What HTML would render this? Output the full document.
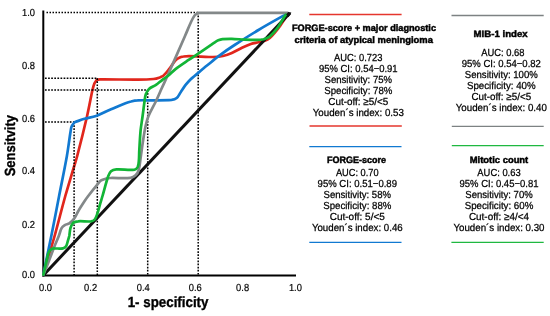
<!DOCTYPE html>
<html><head><meta charset="utf-8"><title>ROC curves</title>
<style>
html,body{margin:0;padding:0;background:#fff;}
svg{display:block;font-family:"Liberation Sans",sans-serif;}
text{fill:#000;stroke:#000;stroke-width:0.25px;text-rendering:geometricPrecision;}
text.t{stroke-width:0.2px;}
text.h{stroke-width:0.45px;}
text.a{stroke-width:0.35px;}
</style></head><body>
<svg width="550" height="316" viewBox="0 0 550 316">
<rect width="550" height="316" fill="#fff"/>
<line x1="43.3" y1="10.5" x2="43.3" y2="276.6" stroke="#000" stroke-width="2"/>
<line x1="42.3" y1="275.6" x2="296" y2="275.6" stroke="#000" stroke-width="2"/>
<path d="M43.4 274.6 C44.9 269.3 46.3 264.1 47.8 258.8 C50.0 251.2 52.5 243.6 54.6 236.0 C58.3 222.7 61.6 209.3 65.3 196.0 C67.9 186.9 70.7 177.8 73.4 168.7 C74.7 164.5 76.1 160.3 77.2 156.0 C80.7 142.7 84.0 129.4 87.1 116.0 C89.0 107.8 90.4 99.5 92.2 91.3 C92.8 88.7 93.3 86.1 94.3 83.7 C94.9 82.3 96.0 81.1 96.8 79.8 C97.9 79.7 98.9 79.4 100.0 79.4 C112.7 79.3 125.5 79.7 138.2 79.6 C143.3 79.6 148.4 79.5 153.5 79.0 C155.7 78.8 157.8 78.1 159.8 77.4 C161.1 76.9 162.5 76.4 163.6 75.5 C165.7 73.6 167.4 71.3 169.1 69.1 C171.3 66.3 173.1 63.1 175.5 60.4 C176.5 59.3 177.8 58.4 179.2 57.7 C180.5 57.0 182.0 56.7 183.5 56.5 C185.3 56.2 187.2 56.2 189.0 56.2 C193.0 56.2 196.9 56.5 200.9 56.6 C204.8 56.7 208.8 57.1 212.7 57.0 C216.1 56.9 219.6 56.7 222.9 56.0 C226.0 55.3 228.9 54.1 231.8 52.9 C235.3 51.4 238.6 49.4 242.0 47.8 C244.9 46.4 247.8 45.0 250.9 44.0 C253.4 43.2 256.0 42.9 258.5 42.3 C260.6 41.8 262.8 41.6 264.8 40.8 C266.6 40.1 268.3 39.2 269.8 38.0 C271.6 36.6 273.1 34.8 274.6 33.0 C276.6 30.6 278.6 28.1 280.4 25.5 C282.1 23.1 283.6 20.5 285.3 18.0 C286.3 16.5 287.3 15.1 288.3 13.6" fill="none" stroke="#e1261c" stroke-width="2.70" stroke-linejoin="round" stroke-linecap="round"/>
<line x1="46.5" y1="12.5" x2="198.2" y2="12.5" stroke="#000" stroke-width="1.30" stroke-dasharray="1.5 1.5"/>
<line x1="198.2" y1="12.5" x2="198.2" y2="275.6" stroke="#000" stroke-width="1.50" stroke-dasharray="1.7 1.4"/>
<line x1="45.0" y1="78.2" x2="97.3" y2="78.2" stroke="#000" stroke-width="1.50" stroke-dasharray="1.7 1.4"/>
<line x1="97.3" y1="78.2" x2="97.3" y2="275.6" stroke="#000" stroke-width="1.50" stroke-dasharray="1.7 1.4"/>
<line x1="45.0" y1="90.0" x2="147.7" y2="90.0" stroke="#000" stroke-width="1.50" stroke-dasharray="1.7 1.4"/>
<line x1="147.7" y1="90.0" x2="147.7" y2="275.6" stroke="#000" stroke-width="1.50" stroke-dasharray="1.7 1.4"/>
<line x1="45.0" y1="122.1" x2="74.1" y2="122.1" stroke="#000" stroke-width="1.50" stroke-dasharray="1.7 1.4"/>
<line x1="74.1" y1="122.1" x2="74.1" y2="275.6" stroke="#000" stroke-width="1.50" stroke-dasharray="1.7 1.4"/>
<line x1="43.4" y1="275.2" x2="289.7" y2="13.1" stroke="#111" stroke-width="3.0" stroke-linecap="butt"/>
<path d="M43.4 274.6 C44.5 269.3 45.5 264.1 46.6 258.8 C48.2 251.2 49.8 243.6 51.3 236.0 C54.0 222.7 56.5 209.3 59.1 196.0 C61.7 182.7 64.5 169.4 66.9 156.0 C68.3 148.0 69.2 140.0 70.5 132.0 C70.8 130.2 70.9 128.2 71.6 126.5 C72.3 124.9 73.6 123.6 74.6 122.2 C77.9 121.1 81.1 119.8 84.5 118.8 C88.3 117.7 92.3 117.3 96.0 116.0 C100.8 114.3 105.3 111.7 110.0 109.7 C115.1 107.5 120.3 105.2 125.5 103.2 C127.3 102.5 129.1 101.9 131.0 101.5 C133.1 101.0 135.3 100.5 137.5 100.4 C141.7 100.1 145.8 100.4 150.0 100.3 C157.2 100.2 164.4 100.5 171.6 99.9 C173.4 99.7 175.3 99.2 176.7 98.0 C178.4 96.6 179.2 94.3 180.5 92.5 C182.2 90.0 183.7 87.3 185.6 84.9 C187.2 82.9 188.9 81.0 190.7 79.2 C191.9 78.0 193.2 77.1 194.5 76.0 C198.8 72.4 203.0 68.8 207.3 65.3 C211.5 61.9 215.6 58.3 220.0 55.1 C224.7 51.6 229.6 48.2 234.6 45.0 C242.5 39.9 250.4 34.8 258.5 30.0 C266.8 25.0 275.2 20.4 283.6 15.6 C284.6 15.1 285.5 14.5 286.5 14.0" fill="none" stroke="#1179d1" stroke-width="2.70" stroke-linejoin="round" stroke-linecap="round"/>
<path d="M43.4 274.6 C44.6 271.7 45.8 268.9 47.0 266.0 C48.1 263.2 49.1 260.4 50.2 257.6 C51.5 254.2 52.7 250.8 54.0 247.5 C55.5 243.6 57.3 239.9 58.8 236.0 C59.8 233.4 60.3 230.6 61.6 228.2 C62.3 226.9 63.6 226.0 64.8 225.2 C66.2 224.3 68.0 224.3 69.3 223.4 C71.3 222.0 73.0 220.2 74.4 218.3 C76.0 216.2 76.8 213.6 78.2 211.3 C80.1 208.0 82.2 204.8 84.3 201.6 C85.5 199.7 86.8 197.8 88.2 196.0 C91.2 192.1 94.2 188.3 97.3 184.6 C98.5 183.1 99.5 181.5 101.1 180.4 C102.6 179.4 104.5 179.1 106.2 178.6 C107.5 178.3 108.9 178.0 110.3 178.0 C117.0 177.8 123.8 178.6 130.5 177.9 C132.4 177.7 134.2 176.6 135.6 175.3 C137.0 174.0 138.1 172.2 138.6 170.3 C139.8 166.3 140.0 162.2 140.6 158.1 C141.0 155.4 141.3 152.7 141.7 150.0 C142.3 145.5 143.0 141.0 143.7 136.5 C144.3 133.0 144.8 129.5 145.6 126.0 C146.4 122.7 147.1 119.3 148.4 116.2 C150.5 111.1 153.4 106.5 155.8 101.5 C157.8 97.3 159.6 93.0 161.5 88.7 C163.4 84.5 165.5 80.3 167.4 76.0 C173.3 62.7 179.2 49.3 185.0 36.0 C187.0 31.5 188.7 26.9 190.8 22.5 C191.9 20.1 193.0 17.6 194.6 15.5 C195.5 14.3 197.0 13.7 198.2 12.8 L287.6 12.8" fill="none" stroke="#838889" stroke-width="2.70" stroke-linejoin="round" stroke-linecap="round"/>
<path d="M43.4 274.6 C43.8 273.1 44.1 271.5 44.5 270.0 C45.3 266.3 46.1 262.6 47.0 258.9 C47.5 256.7 47.8 254.4 48.7 252.3 C49.3 251.0 50.2 249.5 51.5 248.9 C53.2 248.1 55.2 248.6 57.0 248.5 C59.0 248.4 61.0 248.9 62.9 248.4 C64.2 248.1 65.4 247.3 66.1 246.2 C67.1 244.7 67.3 242.8 67.8 241.1 C68.3 239.4 68.9 237.7 69.3 236.0 C69.8 233.3 69.7 230.5 70.5 227.8 C71.0 226.0 71.7 224.1 73.1 222.9 C74.5 221.8 76.4 221.4 78.2 221.3 C82.4 220.9 86.7 221.9 90.9 221.4 C92.3 221.2 93.8 220.6 94.7 219.5 C96.0 217.9 96.6 215.8 97.3 213.8 C98.5 210.5 99.2 207.0 100.2 203.6 C100.9 201.1 101.8 198.5 102.5 196.0 C104.4 189.4 106.0 182.8 108.2 176.3 C108.8 174.5 109.5 172.5 111.0 171.2 C112.4 170.0 114.4 169.5 116.3 169.4 C122.4 169.0 128.5 170.3 134.6 169.6 C136.0 169.4 137.2 168.1 137.8 166.8 C138.7 164.7 138.7 162.3 138.9 160.0 C139.2 156.7 139.1 153.3 139.3 150.0 C139.7 143.5 140.0 136.9 140.6 130.4 C141.1 125.6 142.0 120.8 142.6 116.0 C143.3 111.2 143.8 106.3 144.5 101.5 C144.9 99.1 145.0 96.5 145.8 94.2 C146.5 92.3 147.5 90.3 149.0 88.9 C151.0 87.1 153.8 86.4 156.0 84.9 C158.3 83.4 160.2 81.4 162.4 79.8 C164.2 78.5 166.1 77.4 167.8 76.0 C170.5 73.8 172.8 71.2 175.5 69.1 C179.6 65.9 183.9 63.1 188.2 60.2 C192.4 57.4 196.7 54.7 200.9 51.9 C204.3 49.6 207.7 47.2 211.1 44.9 C212.3 44.0 213.5 43.1 214.8 42.3 C215.9 41.6 217.1 40.8 218.3 40.3 C219.6 39.8 221.1 39.4 222.5 39.2 C225.6 38.9 228.7 38.7 231.8 38.8 C236.0 38.9 240.3 39.4 244.5 39.6 C248.8 39.8 253.0 40.0 257.3 39.9 C259.4 39.9 261.6 39.7 263.6 39.2 C265.7 38.6 267.9 37.9 269.6 36.6 C272.3 34.5 274.5 31.9 276.6 29.2 C278.5 26.8 280.0 24.1 281.6 21.5 C282.5 20.0 283.3 18.5 284.2 17.0 C284.7 16.2 285.4 15.4 286.0 14.6" fill="none" stroke="#12b536" stroke-width="2.70" stroke-linejoin="round" stroke-linecap="round"/>
<path d="M286.2 14.4 L288.2 11.9 L291.3 12.5 L290.6 14.6 L288.4 17.2 Z" fill="#111"/>
<text x="28.5" y="15.6" font-size="10.20" text-anchor="middle" textLength="13.0" lengthAdjust="spacingAndGlyphs" class="t">1.0</text>
<text x="28.5" y="68.5" font-size="10.20" text-anchor="middle" textLength="13.0" lengthAdjust="spacingAndGlyphs" class="t">0.8</text>
<text x="28.5" y="121.9" font-size="10.20" text-anchor="middle" textLength="13.0" lengthAdjust="spacingAndGlyphs" class="t">0.6</text>
<text x="28.5" y="173.6" font-size="10.20" text-anchor="middle" textLength="13.0" lengthAdjust="spacingAndGlyphs" class="t">0.4</text>
<text x="28.5" y="228.2" font-size="10.20" text-anchor="middle" textLength="13.0" lengthAdjust="spacingAndGlyphs" class="t">0.2</text>
<text x="28.5" y="278.4" font-size="10.20" text-anchor="middle" textLength="13.0" lengthAdjust="spacingAndGlyphs" class="t">0.0</text>
<text x="45.5" y="290.6" font-size="10.20" text-anchor="middle" textLength="13.0" lengthAdjust="spacingAndGlyphs" class="t">0.0</text>
<text x="90.6" y="290.6" font-size="10.20" text-anchor="middle" textLength="13.0" lengthAdjust="spacingAndGlyphs" class="t">0.2</text>
<text x="143.3" y="290.6" font-size="10.20" text-anchor="middle" textLength="13.0" lengthAdjust="spacingAndGlyphs" class="t">0.4</text>
<text x="195.2" y="290.6" font-size="10.20" text-anchor="middle" textLength="13.0" lengthAdjust="spacingAndGlyphs" class="t">0.6</text>
<text x="242.6" y="290.6" font-size="10.20" text-anchor="middle" textLength="13.0" lengthAdjust="spacingAndGlyphs" class="t">0.8</text>
<text x="295.4" y="290.6" font-size="10.20" text-anchor="middle" textLength="13.0" lengthAdjust="spacingAndGlyphs" class="t">1.0</text>
<text x="168.1" y="307.0" font-size="14.70" text-anchor="middle" font-weight="bold" textLength="80.8" lengthAdjust="spacingAndGlyphs" class="a">1- specificity</text>
<text class="a" transform="translate(15.2,145.7) rotate(-90)" font-size="14.7" font-weight="bold" text-anchor="middle" textLength="61.2" lengthAdjust="spacingAndGlyphs">Sensitvity</text>
<line x1="309.3" y1="14.5" x2="401.6" y2="14.5" stroke="#e5362d" stroke-width="1.3"/>
<line x1="309.5" y1="126.0" x2="401.8" y2="126.0" stroke="#e5362d" stroke-width="1.3"/>
<line x1="309.3" y1="146.6" x2="401.5" y2="146.6" stroke="#1179d1" stroke-width="1.3"/>
<line x1="309.3" y1="242.3" x2="401.5" y2="242.3" stroke="#1179d1" stroke-width="1.3"/>
<line x1="451.5" y1="15.5" x2="543.7" y2="15.5" stroke="#7d8283" stroke-width="1.3"/>
<line x1="451.8" y1="126.3" x2="543.7" y2="126.3" stroke="#7d8283" stroke-width="1.3"/>
<line x1="451.8" y1="145.6" x2="543.7" y2="145.6" stroke="#1fb840" stroke-width="1.3"/>
<line x1="451.4" y1="242.3" x2="543.7" y2="242.3" stroke="#1fb840" stroke-width="1.3"/>
<text x="364.0" y="31.4" font-size="9.30" text-anchor="middle" font-weight="bold" textLength="144.1" lengthAdjust="spacingAndGlyphs" class="h">FORGE-score + major diagnostic</text>
<text x="363.7" y="42.6" font-size="9.30" text-anchor="middle" font-weight="bold" textLength="138.5" lengthAdjust="spacingAndGlyphs" class="h">criteria of atypical meningioma</text>
<text x="358.3" y="61.2" font-size="10.20" text-anchor="middle" textLength="48.4" lengthAdjust="spacingAndGlyphs">AUC: 0.723</text>
<text x="358.3" y="72.2" font-size="10.20" text-anchor="middle" textLength="78.7" lengthAdjust="spacingAndGlyphs">95% CI: 0.54−0.91</text>
<text x="358.3" y="83.1" font-size="10.20" text-anchor="middle" textLength="67.5" lengthAdjust="spacingAndGlyphs">Sensitivity: 75%</text>
<text x="358.3" y="94.1" font-size="10.20" text-anchor="middle" textLength="68.2" lengthAdjust="spacingAndGlyphs">Specificity: 78%</text>
<text x="358.3" y="105.1" font-size="10.20" text-anchor="middle" textLength="60.0" lengthAdjust="spacingAndGlyphs">Cut-off: ≥5/&lt;5</text>
<text x="358.3" y="116.1" font-size="10.20" text-anchor="middle" textLength="91.1" lengthAdjust="spacingAndGlyphs">Youden´s index: 0.53</text>
<text x="356.6" y="162.7" font-size="9.30" text-anchor="middle" font-weight="bold" textLength="59.0" lengthAdjust="spacingAndGlyphs" class="h">FORGE-score</text>
<text x="357.3" y="175.7" font-size="10.20" text-anchor="middle" textLength="42.7" lengthAdjust="spacingAndGlyphs">AUC: 0.70</text>
<text x="357.3" y="186.7" font-size="10.20" text-anchor="middle" textLength="79.4" lengthAdjust="spacingAndGlyphs">95% CI: 0.51−0.89</text>
<text x="357.3" y="197.6" font-size="10.20" text-anchor="middle" textLength="67.4" lengthAdjust="spacingAndGlyphs">Sensitivity: 58%</text>
<text x="357.3" y="208.6" font-size="10.20" text-anchor="middle" textLength="68.2" lengthAdjust="spacingAndGlyphs">Specificity: 88%</text>
<text x="357.3" y="219.6" font-size="10.20" text-anchor="middle" textLength="55.2" lengthAdjust="spacingAndGlyphs">Cut-off: 5/&lt;5</text>
<text x="357.3" y="230.5" font-size="10.20" text-anchor="middle" textLength="90.8" lengthAdjust="spacingAndGlyphs">Youden´s index: 0.46</text>
<text x="500.6" y="36.9" font-size="9.30" text-anchor="middle" font-weight="bold" textLength="54.0" lengthAdjust="spacingAndGlyphs" class="h">MIB-1 index</text>
<text x="502.9" y="55.9" font-size="10.20" text-anchor="middle" textLength="43.3" lengthAdjust="spacingAndGlyphs">AUC: 0.68</text>
<text x="501.3" y="66.9" font-size="10.20" text-anchor="middle" textLength="79.3" lengthAdjust="spacingAndGlyphs">95% CI: 0.54−0.82</text>
<text x="501.3" y="77.9" font-size="10.20" text-anchor="middle" textLength="73.0" lengthAdjust="spacingAndGlyphs">Sensitivity: 100%</text>
<text x="501.3" y="89.0" font-size="10.20" text-anchor="middle" textLength="68.7" lengthAdjust="spacingAndGlyphs">Specificity: 40%</text>
<text x="501.3" y="100.0" font-size="10.20" text-anchor="middle" textLength="59.8" lengthAdjust="spacingAndGlyphs">Cut-off: ≥5/&lt;5</text>
<text x="501.3" y="111.0" font-size="10.20" text-anchor="middle" textLength="91.1" lengthAdjust="spacingAndGlyphs">Youden´s index: 0.40</text>
<text x="499.0" y="162.7" font-size="9.30" text-anchor="middle" font-weight="bold" textLength="58.5" lengthAdjust="spacingAndGlyphs" class="h">Mitotic count</text>
<text x="499.0" y="175.7" font-size="10.20" text-anchor="middle" textLength="43.3" lengthAdjust="spacingAndGlyphs">AUC: 0.63</text>
<text x="499.0" y="186.7" font-size="10.20" text-anchor="middle" textLength="78.9" lengthAdjust="spacingAndGlyphs">95% CI: 0.45−0.81</text>
<text x="499.0" y="197.6" font-size="10.20" text-anchor="middle" textLength="67.4" lengthAdjust="spacingAndGlyphs">Sensitivity: 70%</text>
<text x="499.0" y="208.6" font-size="10.20" text-anchor="middle" textLength="68.7" lengthAdjust="spacingAndGlyphs">Specificity: 60%</text>
<text x="499.0" y="219.6" font-size="10.20" text-anchor="middle" textLength="60.1" lengthAdjust="spacingAndGlyphs">Cut-off: ≥4/&lt;4</text>
<text x="499.0" y="230.5" font-size="10.20" text-anchor="middle" textLength="91.1" lengthAdjust="spacingAndGlyphs">Youden´s index: 0.30</text>
</svg>
</body></html>
